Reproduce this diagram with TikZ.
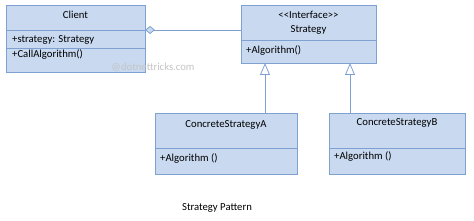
\documentclass[tikz,border=0pt]{standalone}
\usepackage{fontspec}
\setmainfont{Carlito}
\usetikzlibrary{shapes.geometric,arrows.meta}
\definecolor{boxfill}{HTML}{C8D9F0}
\definecolor{boxline}{HTML}{7FA1D2}
\definecolor{wm}{HTML}{C4C4C4}
\begin{document}
\begin{tikzpicture}[x=1pt,y=-1pt,
  box/.style={draw=boxline,fill=boxfill,line width=0.8pt},
  sep/.style={draw=boxline,line width=0.8pt},
  txt/.style={font=\fontsize{10.7}{12}\selectfont,inner sep=0pt},
  conn/.style={draw=boxline,line width=0.8pt},
  inherit/.style={conn,-{Triangle[open,width=10pt,length=12pt,fill=white]}},
  aggr/.style={conn,{Diamond[open,width=8pt,length=10pt,fill=boxfill]}-}]
\useasboundingbox (0,0) rectangle (474,221);
% Client
\path[box] (6,5) rectangle (145,72);
\coordinate (cl1) at (6,30); \coordinate (cr1) at (145,30);
\draw[sep] (cl1) -- (cr1);
\coordinate (cl2) at (6,48); \coordinate (cr2) at (145,48);
\draw[sep] (cl2) -- (cr2);
\node[txt] (clientT) at (75.5,15) {Client};
\node[txt,anchor=west] (clientA) at (12,40) {+strategy: Strategy};
\node[txt,anchor=west] (clientM) at (12,55) {+CallAlgorithm()};
% Strategy
\path[box] (241,5) rectangle (376,63);
\coordinate (sl1) at (241,40); \coordinate (sr1) at (376,40);
\draw[sep] (sl1) -- (sr1);
\node[txt] (stI) at (308.5,15) {{<}{<}Interface{>}{>}};
\node[txt] (stN) at (308.5,30) {Strategy};
\node[txt,anchor=west] (stM) at (246,51) {+Algorithm()};
% ConcreteStrategyA
\path[box] (155,113) rectangle (297,174);
\coordinate (al1) at (155,148); \coordinate (ar1) at (297,148);
\draw[sep] (al1) -- (ar1);
\node[txt] (aT) at (226,125) {ConcreteStrategyA};
\node[txt,anchor=west] (aM) at (160,159) {+Algorithm ()};
% ConcreteStrategyB
\path[box] (329,113) rectangle (465,174);
\coordinate (bl1) at (329,148); \coordinate (br1) at (465,148);
\draw[sep] (bl1) -- (br1);
\node[txt] (bT) at (397,123) {ConcreteStrategyB};
\node[txt,anchor=west] (bM) at (334,157) {+Algorithm ()};
% connectors
\coordinate (aggS) at (145,30); \coordinate (aggE) at (241,30);
\draw[aggr] (aggS) -- (aggE);
\coordinate (iaS) at (265,113); \coordinate (iaE) at (265,63);
\draw[inherit] (iaS) -- (iaE);
\coordinate (ibS) at (350,113); \coordinate (ibE) at (350,63);
\draw[inherit] (ibS) -- (ibE);
% watermark and caption
\node[txt,text=wm] (wmk) at (153,67) {@dotnettricks.com};
\node[txt] (cap) at (217,208) {Strategy Pattern};
\end{tikzpicture}
\end{document}
